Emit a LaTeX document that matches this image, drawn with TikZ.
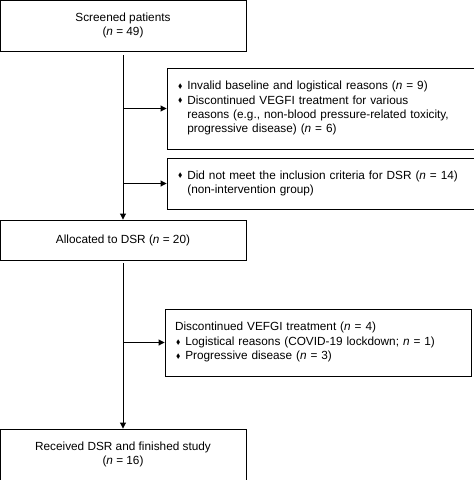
\documentclass[tikz,border=0pt]{standalone}
\usepackage{amssymb}
\usepackage{fontspec}
\setmainfont{Liberation Sans}
\usetikzlibrary{arrows.meta, positioning}

\newcommand{\nn}{\textit{n}}
\newcommand{\dmd}{\raisebox{0.2ex}{\scalebox{0.55}{$\blacklozenge$}}}

\begin{document}
\begin{tikzpicture}[
    x=1pt, y=-1pt,
    box/.style={draw, line width=0.9pt, inner sep=0pt, font=\fontsize{11.8}{14.4}\selectfont},
    mainbox/.style={box, minimum width=246pt, align=center},
    sidebox/.style={box, text width=287pt, inner xsep=10pt, align=left},
    flow/.style={-{Triangle[length=6pt, width=6pt]}, line width=0.9pt}
]
\useasboundingbox (0,0) rectangle (474,480);

% main column
\node[mainbox, minimum height=51pt] (screened) at (123,25.5) {Screened patients\\(\nn{} = 49)};
\node[mainbox, minimum height=40pt] (alloc) at (123,240) {Allocated to DSR (\nn{} = 20)};
\node[mainbox, minimum height=51pt] (received) at (123,454.5) {Received DSR and finished study\\(\nn{} = 16)};

% exclusions
\node[sidebox, minimum height=81pt] (invalid) at (320.5,108.5) {%
  \begin{tabular}{@{\hspace{1pt}}l@{\hspace{5pt}}l@{}}
  \dmd & Invalid baseline and logistical reasons (\nn{} = 9)\\
  \dmd & Discontinued VEGFI treatment for various\\
       & reasons (e.g., non-blood pressure-related toxicity,\\
       & progressive disease) (\nn{} = 6)
  \end{tabular}};
\node[sidebox, minimum height=51pt] (noncrit) at (320.5,183.5) {%
  \begin{tabular}{@{\hspace{1pt}}l@{\hspace{5pt}}l@{}}
  \dmd & Did not meet the inclusion criteria for DSR (\nn{} = 14)\\
       & (non-intervention group)
  \end{tabular}};
\node[sidebox, text width=286pt, minimum height=67pt] (stopped) at (318,342.5) {%
  \begin{tabular}{@{\hspace{1pt}}l@{\hspace{5pt}}l@{}}
  \multicolumn{2}{@{}l@{}}{Discontinued VEFGI treatment (\nn{} = 4)}\\
  \dmd & Logistical reasons (COVID-19 lockdown; \nn{} = 1)\\
  \dmd & Progressive disease (\nn{} = 3)
  \end{tabular}};

% connectors
\draw[flow, shorten <=4pt] (screened.south) -- (alloc.north);
\draw[flow] (screened.south |- invalid.west) -- (invalid.west);
\draw[flow] (screened.south |- noncrit.west) -- (noncrit.west);
\draw[flow, shorten <=3pt] (alloc.south) -- (received.north);
\draw[flow] (alloc.south |- stopped.west) -- (stopped.west);

\end{tikzpicture}
\end{document}
